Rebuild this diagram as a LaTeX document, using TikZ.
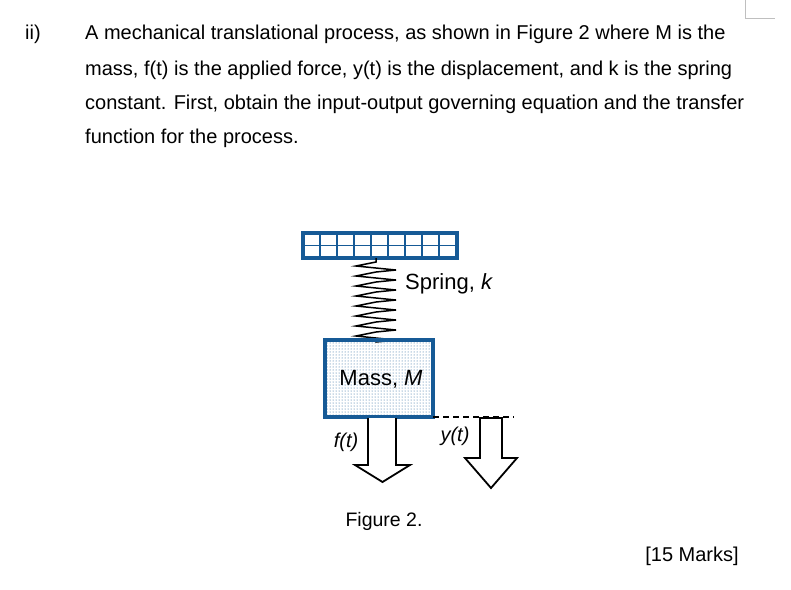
\documentclass[tikz,border=0pt]{standalone}
\usepackage{fontspec}
\setmainfont{Liberation Sans}
\usetikzlibrary{patterns}
\definecolor{bl}{RGB}{22,90,150}
\begin{document}
\begin{tikzpicture}[x=1pt,y=-1pt,
  txt/.style={anchor=base west,inner sep=0,font=\fontsize{20}{24}\selectfont},
  lbl/.style={inner sep=0,font=\fontsize{20}{24}\selectfont},
  barrow/.style={draw=black,line width=1.8pt,fill=white,line join=miter}]
\useasboundingbox (0,0) rectangle (791,589);
\draw[gray!50] (745,0) -- (745,18) -- (775,18);
\node[txt] (n) at (25,39) {ii)};
\node[txt] (l1) at (85,39) {A mechanical translational process, as shown in Figure 2 where M is the};
\node[txt] (l2) at (85,75) {mass, f(t) is the applied force, y(t) is the displacement, and k is the spring};
\node[txt] (l3) at (85,109) {constant. First, obtain the input-output governing equation and the transfer};
\node[txt] (l4) at (85,143) {function for the process.};
% ceiling
\draw[bl,line width=1.5pt] (303,245.5) -- (457,245.5);
\foreach \x in {320,337,354,371,388,405,422,439} \draw[bl,line width=1.5pt] (\x,233) -- (\x,258);
\draw[bl,line width=3.5pt,fill=none] (303,233) rectangle (457,258);
% spring
\draw[line width=1.5pt] (376,258) -- (376,262)
  \foreach \i in {0,...,7} { -- ++(-20,4) -- ++(40,4) -- ++(-20,2) } -- (376,340);
% mass
\node[draw=bl,line width=3.5pt,minimum width=108,minimum height=77,
  pattern=dots,pattern color=bl,inner sep=0] (m) at (379,378.5) {};
\node[lbl,font=\fontsize{22}{24}\selectfont] (ml) at (381,379) {Mass, \textit{M}};
\node[lbl,anchor=west,font=\fontsize{22}{24}\selectfont] (sl) at (405,284) {Spring, \textit{k}};
% dashed
\coordinate (d1) at (433,417); \coordinate (d2) at (514,417);
\draw[dash pattern=on 6pt off 4pt,line width=1.5pt] (d1) -- (d2);
% arrows
\draw[barrow] (368,418) -- (368,465) -- (355,465) -- (382.5,482) -- (410,465) -- (396,465) -- (396,418);
\draw[barrow] (480,418) -- (502,418) -- (502,458) -- (517,458) -- (491,488) -- (465,458) -- (480,458) -- cycle;
\node[lbl,font=\itshape\fontsize{20}{24}\selectfont] (ft) at (346,442) {f(t)};
\node[lbl,font=\itshape\fontsize{20}{24}\selectfont] (yt) at (455,436) {y(t)};
\node[lbl,font=\fontsize{19.5}{24}\selectfont] (fig) at (384,521) {Figure 2.};
\node[lbl] (mk) at (692,556) {[15 Marks]};
\end{tikzpicture}
\end{document}
